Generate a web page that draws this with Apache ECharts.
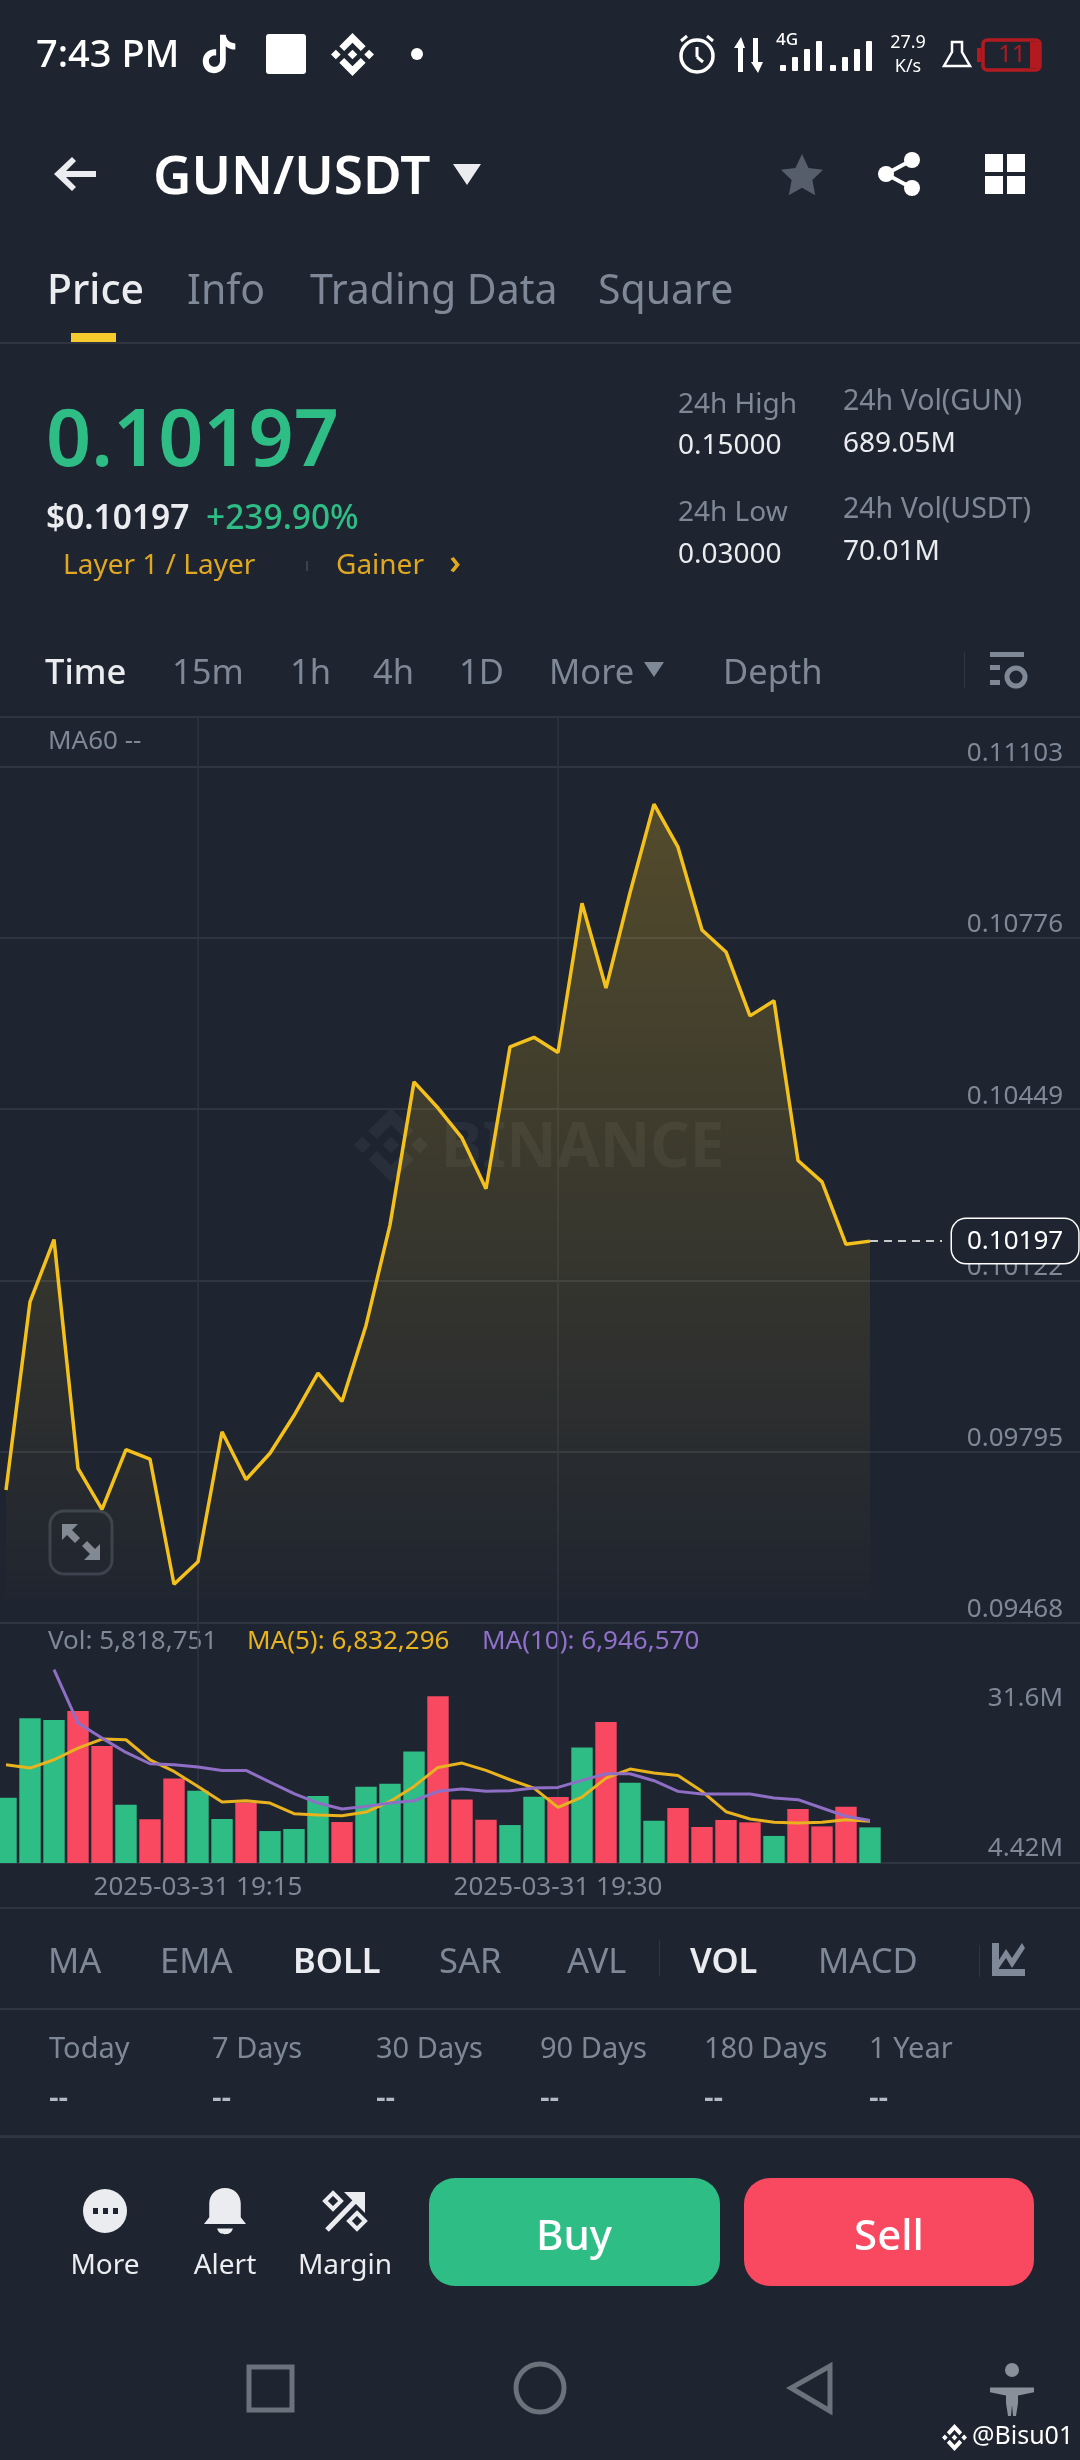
<!DOCTYPE html>
<html>
<head>
<meta charset="utf-8">
<title>GUN/USDT</title>
<script src="https://cdn.jsdelivr.net/npm/echarts@6/dist/echarts.min.js"></script>
<style>
html,body{margin:0;padding:0;background:#1e2430}
#chart{width:1080px;height:2460px}
</style>
</head>
<body>
<div id="chart"></div>
<script>
// one minute per bar, the blank slots are the empty space right of the last bar
var times = ['2025-03-31 19:07','2025-03-31 19:08','2025-03-31 19:09','2025-03-31 19:10','2025-03-31 19:11','2025-03-31 19:12','2025-03-31 19:13','2025-03-31 19:14','2025-03-31 19:15','2025-03-31 19:16','2025-03-31 19:17','2025-03-31 19:18','2025-03-31 19:19','2025-03-31 19:20','2025-03-31 19:21','2025-03-31 19:22','2025-03-31 19:23','2025-03-31 19:24','2025-03-31 19:25','2025-03-31 19:26','2025-03-31 19:27','2025-03-31 19:28','2025-03-31 19:29','2025-03-31 19:30','2025-03-31 19:31','2025-03-31 19:32','2025-03-31 19:33','2025-03-31 19:34','2025-03-31 19:35','2025-03-31 19:36','2025-03-31 19:37','2025-03-31 19:38','2025-03-31 19:39','2025-03-31 19:40','2025-03-31 19:41','2025-03-31 19:42','2025-03-31 19:43','','','','','','','','',''];
var prices = [0.09722,0.10081,0.10200,0.09763,0.09685,0.09799,0.09781,0.09542,0.09585,0.09833,0.09742,0.09792,0.09864,0.09945,0.09891,0.10036,0.10228,0.10501,0.10451,0.10394,0.10297,0.10568,0.10586,0.10557,0.10842,0.10680,0.10862,0.11031,0.10949,0.10791,0.10749,0.10627,0.10656,0.10351,0.10310,0.10191,0.10197];
// volumes in millions
var volumes = [10.66,23.66,23.34,24.81,19.09,9.52,7.13,13.82,11.80,7.18,9.90,5.22,5.55,10.93,6.69,12.46,12.95,18.22,27.25,10.39,7.07,6.20,10.83,10.77,18.88,23.01,13.11,6.91,8.98,5.88,7.02,6.64,4.42,8.81,5.98,9.19,5.82];
var ma5 = [16.05,15.50,16.86,18.77,20.24,20.13,16.86,14.96,12.51,9.96,10.17,9.79,8.05,7.83,7.72,8.32,10.06,12.51,15.61,16.32,15.12,13.60,12.24,9.08,10.77,13.87,15.34,14.69,14.31,11.70,8.38,7.18,6.64,6.53,6.64,7.07,6.83];
var ma10 = [null,null,31.6,22.85,20.40,18.06,16.21,16.05,15.67,15.12,15.12,13.22,11.32,9.79,8.81,9.25,9.79,10.17,11.70,12.08,11.70,11.80,12.24,12.35,13.49,14.58,14.58,13.44,11.70,11.26,11.26,11.26,10.61,10.34,8.98,7.62,6.95];
var priceTicks = [0.09468,0.09795,0.10122,0.10449,0.10776,0.11103];
var volTicks = [4.42,31.6];
var lastPrice = 0.10197;

var tabs = [['Price',47,'#eaecef'],['Info',187,'#7f8896'],['Trading Data',310,'#7f8896'],['Square',598,'#7f8896']];
var ranges = [['Time',45,'#eaecef'],['15m',172,'#7f8896'],['1h',290,'#7f8896'],['4h',373,'#7f8896'],['1D',459,'#7f8896'],['More',549,'#7f8896'],['Depth',723,'#7f8896']];
var indicators = [['MA',48,'#7f8896'],['EMA',160,'#7f8896'],['BOLL',293,'#eaecef'],['SAR',439,'#7f8896'],['AVL',567,'#7f8896'],['VOL',690,'#eaecef'],['MACD',818,'#7f8896']];
var periods = [['Today',49],['7 Days',212],['30 Days',376],['90 Days',540],['180 Days',704],['1 Year',869]];
var actions = [['More',105],['Alert',225],['Margin',345]];

var FONT = '"Noto Sans",sans-serif';
var BG = '#1e2430', LINE = '#2e3541', GRAY = '#7f8896', WHITE = '#eaecef';
var GREEN = '#2ebd85', RED = '#f84960';

// icons drawn in a 24x24 box
echarts.graphic.registerShape('logo', echarts.graphic.extendPath('M16.624 13.9202l2.7175 2.7154-7.353 7.353-7.353-7.352 2.7175-2.7164 4.6355 4.6595 4.6356-4.6595zm4.6366-4.6366L24 12l-2.7154 2.7164L18.5682 12l2.6924-2.7164zm-9.272.001l2.7163 2.6914-2.7164 2.7174v-.001L9.2721 12l2.7164-2.7154zm-9.2722-.001L5.4088 12l-2.6914 2.6924L0 12l2.7164-2.7164zM11.9885.0115l7.353 7.329-2.7174 2.7154-4.6356-4.6356-4.6355 4.6595-2.7174-2.7154 7.353-7.353z'));
echarts.graphic.registerShape('tiktok', echarts.graphic.extendPath('M12 2h3c.3 2.5 1.8 4.2 5 4.5v3.2c-2-.1-3.6-.7-5-1.8v7.6c0 3.8-2.8 6.5-6.3 6.5S3 19.3 3 15.7s3-6.6 7-6.2v3.3c-2.2-.4-3.8 1-3.8 2.9 0 1.7 1.2 3 2.8 3s3-1.2 3-3.2z'));
echarts.graphic.registerShape('star', echarts.graphic.extendPath('M12 1l3.4 7.4 7.6.9-5.6 5.3 1.5 8-6.9-4-6.9 4 1.5-8L1 9.3l7.6-.9z'));
echarts.graphic.registerShape('bell', echarts.graphic.extendPath('M12 2c-3.5 0-6 3-6 7v6l-2 3h16l-2-3V9c0-4-2.5-7-6-7zM9 20h6c-.5 2-1.5 2.5-3 2.5S9.5 22 9 20z'));
echarts.graphic.registerShape('person', echarts.graphic.extendPath('M1 6h22v3l-8 2v5l-1 8h-1.5l-.5-7-.5 7H10l-1-8v-5L1 9z'));

function txt(x, y, text, size, fill, weight, align) {
  return {type: 'text', silent: true, style: {x: x, y: y, text: text, fill: fill, fontFamily: FONT, fontSize: size, fontWeight: weight || 400, align: align || 'left', verticalAlign: 'middle'}};
}
function rect(x, y, w, h, fill, r, stroke, lw) {
  return {type: 'rect', silent: true, shape: {x: x, y: y, width: w, height: h, r: r || 0}, style: {fill: fill || 'none', stroke: stroke || 'none', lineWidth: lw || 0}};
}
function circ(x, y, r, fill, stroke, lw) {
  return {type: 'circle', silent: true, shape: {cx: x, cy: y, r: r}, style: {fill: fill || 'none', stroke: stroke || 'none', lineWidth: lw || 0}};
}
function seg(x1, y1, x2, y2, stroke, lw) {
  return {type: 'line', silent: true, shape: {x1: x1, y1: y1, x2: x2, y2: y2}, style: {stroke: stroke, lineWidth: lw || 2}};
}
function poly(points, fill, stroke, lw) {
  return {type: 'polygon', silent: true, shape: {points: points}, style: {fill: fill || 'none', stroke: stroke || 'none', lineWidth: lw || 0}};
}
function icon(name, x, y, w, h, fill) {
  return {type: name, silent: true, x: x, y: y, scaleX: w / 24, scaleY: h / 24, style: {fill: fill}};
}

var ui = [];
function add() { for (var i = 0; i < arguments.length; i++) ui.push(arguments[i]); }

// status bar
add(txt(36, 56, '7:43 PM', 38, '#fff', 500));
add(icon('tiktok', 197, 31, 46, 46, '#fff'), rect(266, 34, 40, 40, '#fff', 3), icon('logo', 331, 33, 43, 43, '#fff'), circ(417, 54, 6, '#fff'));
add(circ(697, 56, 16, 'none', '#fff', 3.5), seg(697, 47, 697, 57, '#fff', 3), seg(697, 57, 703, 62, '#fff', 3), seg(681, 41, 687, 36, '#fff', 3), seg(713, 41, 707, 36, '#fff', 3));
add(rect(738, 46, 5, 26, '#fff'), poly([[734, 48], [741, 37], [745, 48]], '#fff'), rect(753, 38, 5, 26, '#fff'), poly([[751, 62], [758, 73], [763, 62]], '#fff'));
add(txt(787, 40, '4G', 17, '#fff', 500, 'center'));
[[780, 6], [792, 14], [804, 22], [816, 30], [830, 6], [842, 14], [854, 22], [866, 30]].forEach(function (b) {
  add(rect(b[0], 71 - b[1], 6, b[1], '#fff', 1));
});
add(txt(908, 43, '27.9', 18, '#fff', 400, 'center'), txt(908, 67, 'K/s', 18, '#fff', 400, 'center'));
add(poly([[952, 42], [962, 42], [962, 52], [970, 66], [944, 66], [952, 52]], 'none', '#fff', 2.5));
add(rect(983, 40, 57, 30, 'none', 4, '#b21a1f', 3.5), rect(977, 48, 4, 14, '#b21a1f'), rect(1030, 42, 9, 26, '#b21a1f'), txt(1012, 55, '11', 24, '#b21a1f', 400, 'center'));

// title row
add(poly([[54, 174], [72, 157], [76, 161], [66, 171], [96, 171], [96, 177], [66, 177], [76, 187], [72, 191]], WHITE));
add(txt(153, 179, 'GUN/USDT', 53, '#fff', 600));
add(poly([[453, 164], [481, 164], [467, 185]], WHITE));
add(icon('star', 779, 152, 46, 46, '#565e6b'));
add(seg(886, 174, 912, 160, '#fff', 4), seg(886, 174, 912, 188, '#fff', 4), circ(886, 174, 8, '#fff'), circ(912, 160, 8, '#fff'), circ(912, 188, 8, '#fff'));
add(rect(985, 154, 18, 18, '#fff'), rect(1007, 154, 18, 18, '#fff'), rect(985, 176, 18, 18, '#fff'), rect(1007, 176, 18, 18, '#fff'));

// tabs
tabs.forEach(function (t, i) { add(txt(t[1], 292, t[0], 41, t[2], i ? 400 : 500)); });
add(rect(71, 333, 45, 9, '#f6cb2e'), rect(0, 342, 1080, 2, LINE));

// ticker block
add(txt(46, 443, '0.10197', 79, GREEN, 600));
add(txt(46, 519, '$0.10197', 33.5, WHITE, 600), txt(206, 519, '+239.90%', 33.5, GREEN, 500));
add(txt(63, 566, 'Layer 1 / Layer', 28, '#dfa820'), rect(306, 561, 2, 10, '#3a4150'), txt(336, 566, 'Gainer', 28, '#dfa820'), txt(455, 564, '›', 34, '#dfa820', 600, 'center'));
add(txt(678, 405, '24h High', 28, GRAY), txt(678, 446, '0.15000', 28, WHITE));
add(txt(678, 513, '24h Low', 28, GRAY), txt(678, 555, '0.03000', 28, WHITE));
add(txt(843, 402, '24h Vol(GUN)', 28.5, GRAY), txt(843, 444, '689.05M', 28, WHITE));
add(txt(843, 510, '24h Vol(USDT)', 28.5, GRAY), txt(843, 552, '70.01M', 28, WHITE));

// interval row
ranges.forEach(function (t, i) { add(txt(t[1], 674, t[0], 34.5, t[2], i ? 400 : 500)); });
add(poly([[644, 662], [664, 662], [654, 677]], GRAY), rect(964, 652, 1, 36, LINE));
add(rect(990, 652, 34, 5, GRAY), rect(990, 665, 10, 5, GRAY), rect(990, 680, 10, 5, GRAY), circ(1016, 677, 9, 'none', GRAY, 5));
add(rect(0, 716, 1080, 2, LINE));
add(txt(48, 742, 'MA60 --', 26, GRAY));

// watermark, under the series
add(icon('logo', 354, 1108, 74, 74, 'rgba(255,255,255,.05)'), txt(441, 1149, 'BINANCE', 62, 'rgba(255,255,255,.05)', 700));

// expand button
add(rect(50, 1511, 62, 63, 'none', 14, '#39414e', 3));
add(poly([[62, 1524], [78, 1524], [72, 1530], [80, 1538], [75, 1543], [67, 1535], [62, 1540]], GRAY));
add(poly([[100, 1560], [84, 1560], [90, 1554], [82, 1546], [87, 1541], [95, 1549], [100, 1544]], GRAY));

// volume legend
add(txt(48, 1642, 'Vol: 5,818,751', 26, GRAY), txt(247, 1642, 'MA(5): 6,832,296', 26, '#e9b21f'), txt(482, 1642, 'MA(10): 6,946,570', 26, '#9070c8'));

// indicator row
indicators.forEach(function (t) { add(txt(t[1], 1963, t[0], 34.5, t[2], t[2] === WHITE ? 600 : 400)); });
add(rect(659, 1940, 1, 36, LINE), rect(979, 1945, 1, 32, LINE));
add(rect(992, 1969, 33, 7, GRAY), rect(992, 1943, 7, 30, GRAY), poly([[999, 1960], [1006, 1949], [1012, 1958], [1022, 1943], [1025, 1948], [1012, 1968], [1006, 1958], [999, 1968]], GRAY));
add(rect(0, 1907, 1080, 2, LINE), rect(0, 2008, 1080, 2, LINE));

// change table
periods.forEach(function (t) { add(txt(t[1], 2050, t[0], 29, GRAY), txt(t[1], 2099, '--', 30, '#b4bac4', 600)); });
add(rect(0, 2135, 1080, 3, LINE));

// bottom actions
add(circ(105, 2211, 22, WHITE), rect(93, 2208, 5, 6, BG), rect(103, 2208, 5, 6, BG), rect(113, 2208, 5, 6, BG));
add(icon('bell', 193.5, 2183.5, 63, 54, WHITE));
add(seg(327, 2230, 362, 2194, WHITE, 5), poly([[344, 2192], [365, 2192], [365, 2213]], WHITE), poly([[333, 2193], [341, 2201], [333, 2209], [325, 2201]], 'none', WHITE, 4), poly([[357, 2213], [365, 2221], [357, 2229], [349, 2221]], 'none', WHITE, 4));
actions.forEach(function (t) { add(txt(t[1], 2266, t[0], 28, WHITE, 400, 'center')); });
add(rect(429, 2178, 291, 108, GREEN, 26), txt(574, 2238, 'Buy', 42, '#fff', 500, 'center'));
add(rect(744, 2178, 290, 108, RED, 26), txt(889, 2238, 'Sell', 42, '#fff', 500, 'center'));

// nav bar
add(rect(249, 2367, 43, 43, 'none', 0, '#6c727c', 5), circ(540, 2388, 24, 'none', '#6c727c', 5));
add(poly([[830, 2366], [830, 2411], [791, 2388]], 'none', '#6c727c', 5));
add(circ(1012, 2370, 7, '#8a9099'), icon('person', 988, 2378, 48, 38, '#8a9099'));
add(icon('logo', 942, 2424, 25, 27, '#fff'), txt(972, 2437, '@Bisu01', 25, '#fff'));

var showTick = function (i) { return i === 8 || i === 23; };

var chart = echarts.init(document.getElementById('chart'));
chart.setOption({
  backgroundColor: BG,
  animation: false,
  textStyle: {fontFamily: FONT},
  graphic: ui,
  grid: [
    {left: -6, top: 716, width: 1104, height: 907, outerBoundsMode: 'none'},
    {left: -6, top: 1623, width: 1104, height: 240, outerBoundsMode: 'none'}
  ],
  xAxis: [
    {
      type: 'category', gridIndex: 0, data: times,
      axisLine: {show: false}, axisTick: {show: false}, axisLabel: {show: false, interval: showTick},
      splitLine: {show: true, alignWithLabel: true, interval: showTick, lineStyle: {color: LINE, width: 1.5}}
    },
    {
      type: 'category', gridIndex: 1, data: times,
      axisLine: {show: true, lineStyle: {color: LINE, width: 2}}, axisTick: {show: false},
      axisLabel: {color: GRAY, fontSize: 26, margin: 12, interval: showTick},
      splitLine: {show: true, alignWithLabel: true, interval: showTick, lineStyle: {color: LINE, width: 1.5}}
    }
  ],
  yAxis: [
    {
      type: 'value', gridIndex: 0, position: 'right', min: 0.09468, max: 0.111994, scale: true,
      axisLine: {show: false},
      axisTick: {show: false, customValues: priceTicks},
      axisLabel: {inside: true, margin: 35, color: GRAY, fontSize: 26, verticalAlign: 'bottom', customValues: priceTicks, formatter: function (v) { return v.toFixed(5); }},
      splitLine: {show: true, lineStyle: {color: LINE, width: 2}}
    },
    {
      type: 'value', gridIndex: 1, position: 'right', min: 0, max: 39.2,
      axisLine: {show: false},
      axisTick: {show: false, customValues: volTicks},
      axisLabel: {
        inside: true, margin: 35, color: GRAY, fontSize: 26, verticalAlign: 'top', customValues: volTicks,
        formatter: function (v) { return v > 10 ? '{hi|' + v.toFixed(1) + 'M}' : v.toFixed(2) + 'M'; },
        rich: {hi: {color: GRAY, fontSize: 26, padding: [16, 0, 0, 0]}}
      },
      splitLine: {show: false}
    }
  ],
  series: [
    {
      type: 'line', name: 'Price', xAxisIndex: 0, yAxisIndex: 0, data: prices, symbol: 'none', z: 3,
      lineStyle: {color: '#f3c01c', width: 3.5},
      areaStyle: {color: {type: 'linear', x: 0, y: 0, x2: 0, y2: 1, colorStops: [{offset: 0, color: 'rgba(240,190,30,.36)'}, {offset: 1, color: 'rgba(240,190,30,0)'}]}},
      markLine: {
        silent: true, symbol: 'none', animation: false,
        lineStyle: {color: '#fff', type: [8, 6], width: 1.5},
        label: {show: true, position: 'end', distance: 10, formatter: lastPrice.toFixed(5), color: '#fff', fontSize: 26, fontFamily: FONT, backgroundColor: BG, borderColor: '#fff', borderWidth: 1.5, borderRadius: 14, padding: [10, 15, 8, 15]},
        data: [[{coord: [36, lastPrice]}, {coord: [39, lastPrice]}]]
      }
    },
    {
      type: 'bar', name: 'Vol', xAxisIndex: 1, yAxisIndex: 1, barWidth: 21.4, z: 2,
      data: volumes.map(function (v, i) {
        return {value: v, itemStyle: {color: i === 0 || prices[i] >= prices[i - 1] ? GREEN : RED}};
      })
    },
    {type: 'line', name: 'MA(5)', xAxisIndex: 1, yAxisIndex: 1, data: ma5, symbol: 'none', z: 4, lineStyle: {color: '#e9b21f', width: 3}},
    {type: 'line', name: 'MA(10)', xAxisIndex: 1, yAxisIndex: 1, data: ma10, symbol: 'none', z: 5, connectNulls: false, lineStyle: {color: '#8e6fc5', width: 3}}
  ]
});
</script>
</body>
</html>
